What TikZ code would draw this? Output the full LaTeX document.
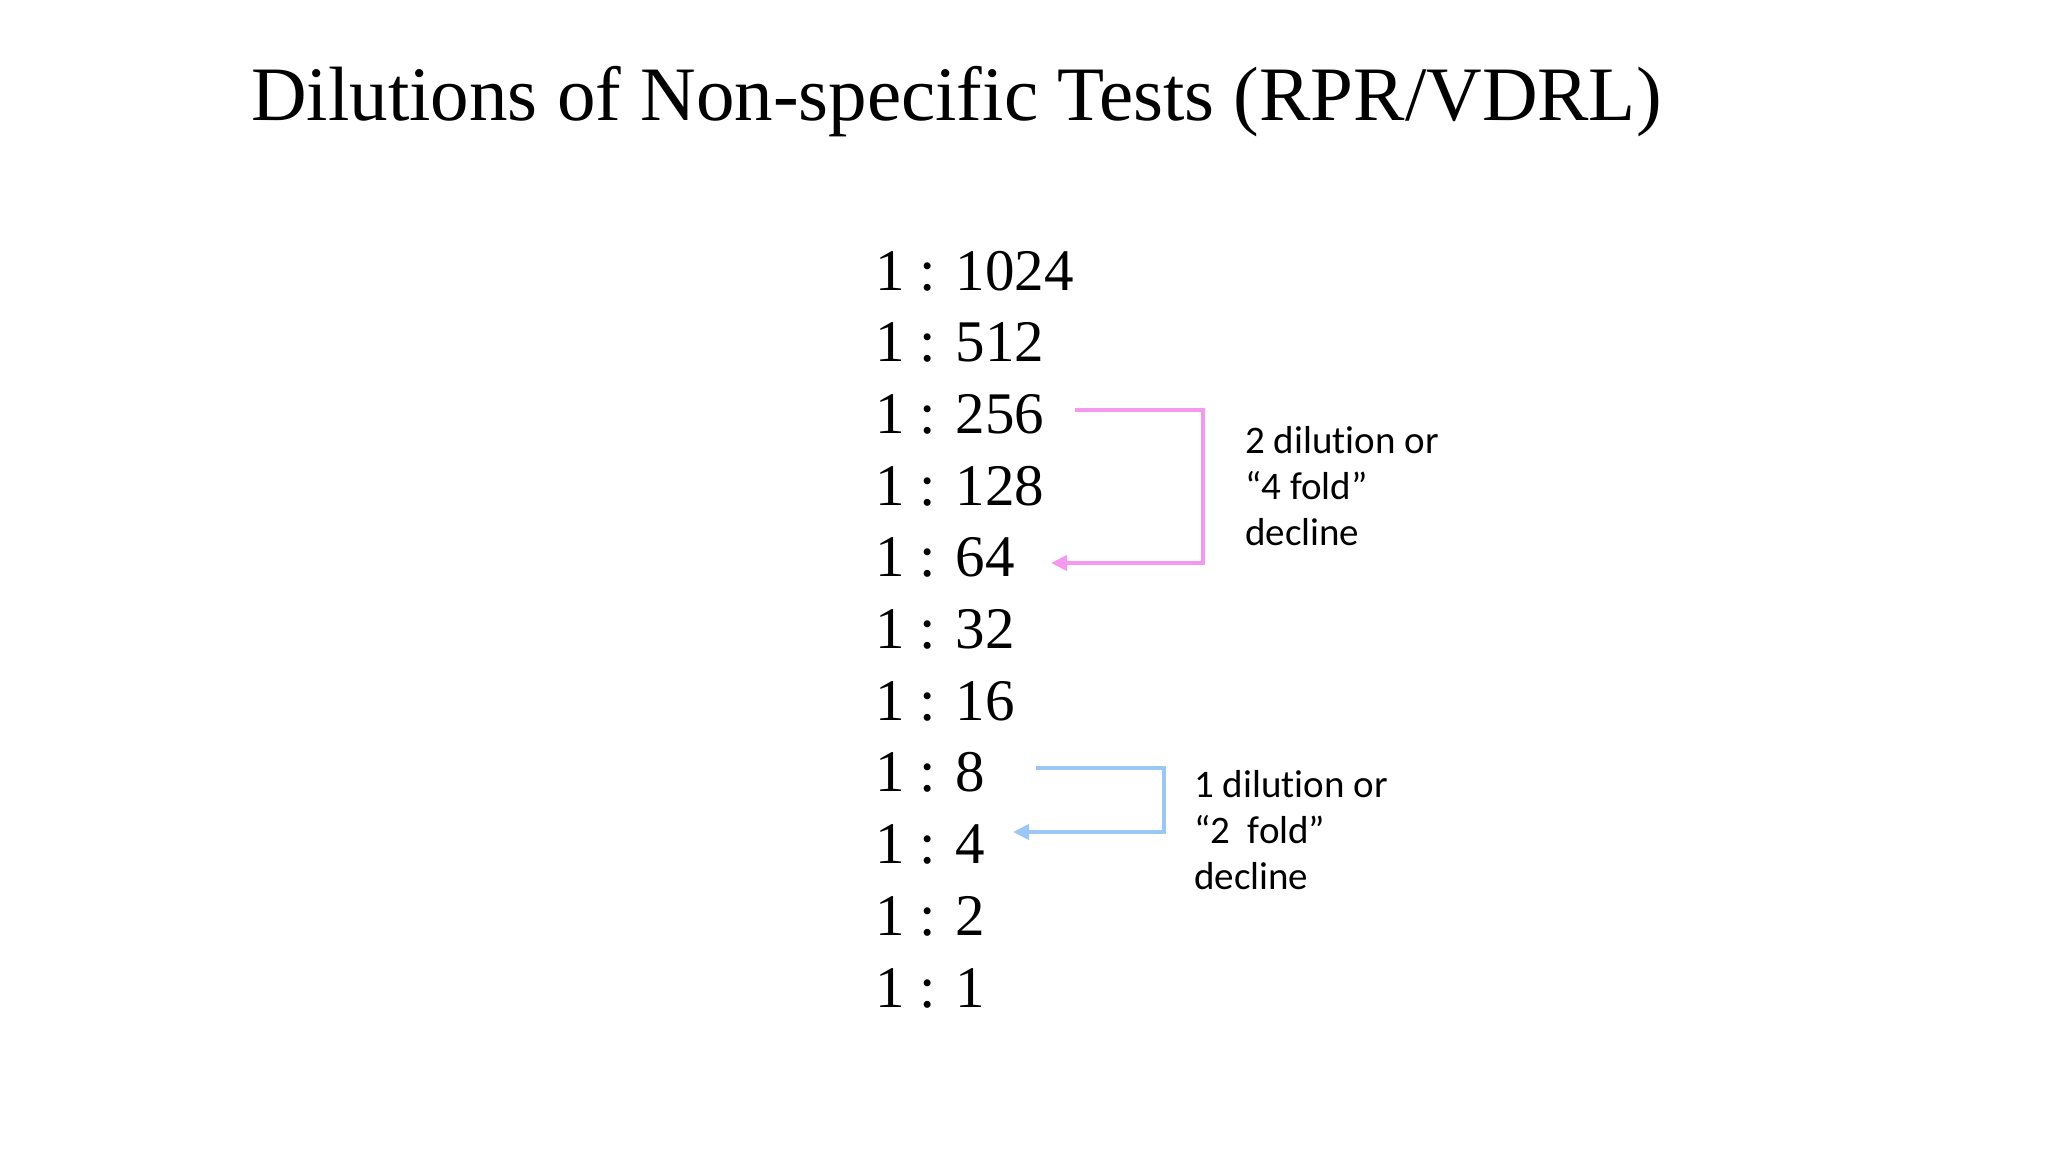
\documentclass[tikz,border=0pt]{standalone}
\usepackage{fontspec}
\setmainfont{Liberation Serif}
\newfontfamily\labfont[Ligatures=NoCommon]{Carlito}
\usetikzlibrary{arrows.meta}
\definecolor{pinkc}{RGB}{244,152,240}
\definecolor{bluec}{RGB}{155,198,245}
\tikzset{
  ratio/.style={anchor=base west, inner sep=0pt, font=\fontsize{59}{59}\selectfont},
  lab/.style={anchor=base west, inner sep=0pt, align=left, font=\labfont\fontsize{39}{45.7}\selectfont},
  conn/.style={line width=4.5pt, -{Triangle[length=16pt,width=15pt]}},
}
\begin{document}
\begin{tikzpicture}[x=1pt,y=-1pt]
\useasboundingbox[fill=white] (0,0) rectangle (2048,1152);
\node[anchor=base west, inner sep=0pt, font=\fontsize{77}{77}\selectfont] (title) at (251,120) {Dilutions of Non-specific Tests (RPR/VDRL)};
\node[ratio] (r1024) at (875,290) {1 : 1024};
\node[ratio] (r512) at (875,361.7) {1 : 512};
\node[ratio] (r256) at (875,433.4) {1 : 256};
\node[ratio] (r128) at (875,505.1) {1 : 128};
\node[ratio] (r64) at (875,576.8) {1 : 64};
\node[ratio] (r32) at (875,648.5) {1 : 32};
\node[ratio] (r16) at (875,720.2) {1 : 16};
\node[ratio] (r8) at (875,791.9) {1 : 8};
\node[ratio] (r4) at (875,863.6) {1 : 4};
\node[ratio] (r2) at (875,935.3) {1 : 2};
\node[ratio] (r1) at (875,1007) {1 : 1};
\node[lab] (lab4) at (1245,545) {2 dilution or\\“4 fold”\\decline};
\node[lab] (lab2) at (1194,889) {1 dilution or\\“2\ \ fold”\\decline};
% pink connector
\coordinate (p1) at (1075,410);
\coordinate (p2) at (1051,563);
\coordinate (pc) at (1203,0);
\draw[conn, color=pinkc] (p1) -- (p1 -| pc) -- (p2 -| pc) -- (p2);
% blue connector
\coordinate (b1) at (1036,768);
\coordinate (b2) at (1013,832);
\coordinate (bc) at (1164,0);
\draw[conn, color=bluec] (b1) -- (b1 -| bc) -- (b2 -| bc) -- (b2);
\end{tikzpicture}
\end{document}
